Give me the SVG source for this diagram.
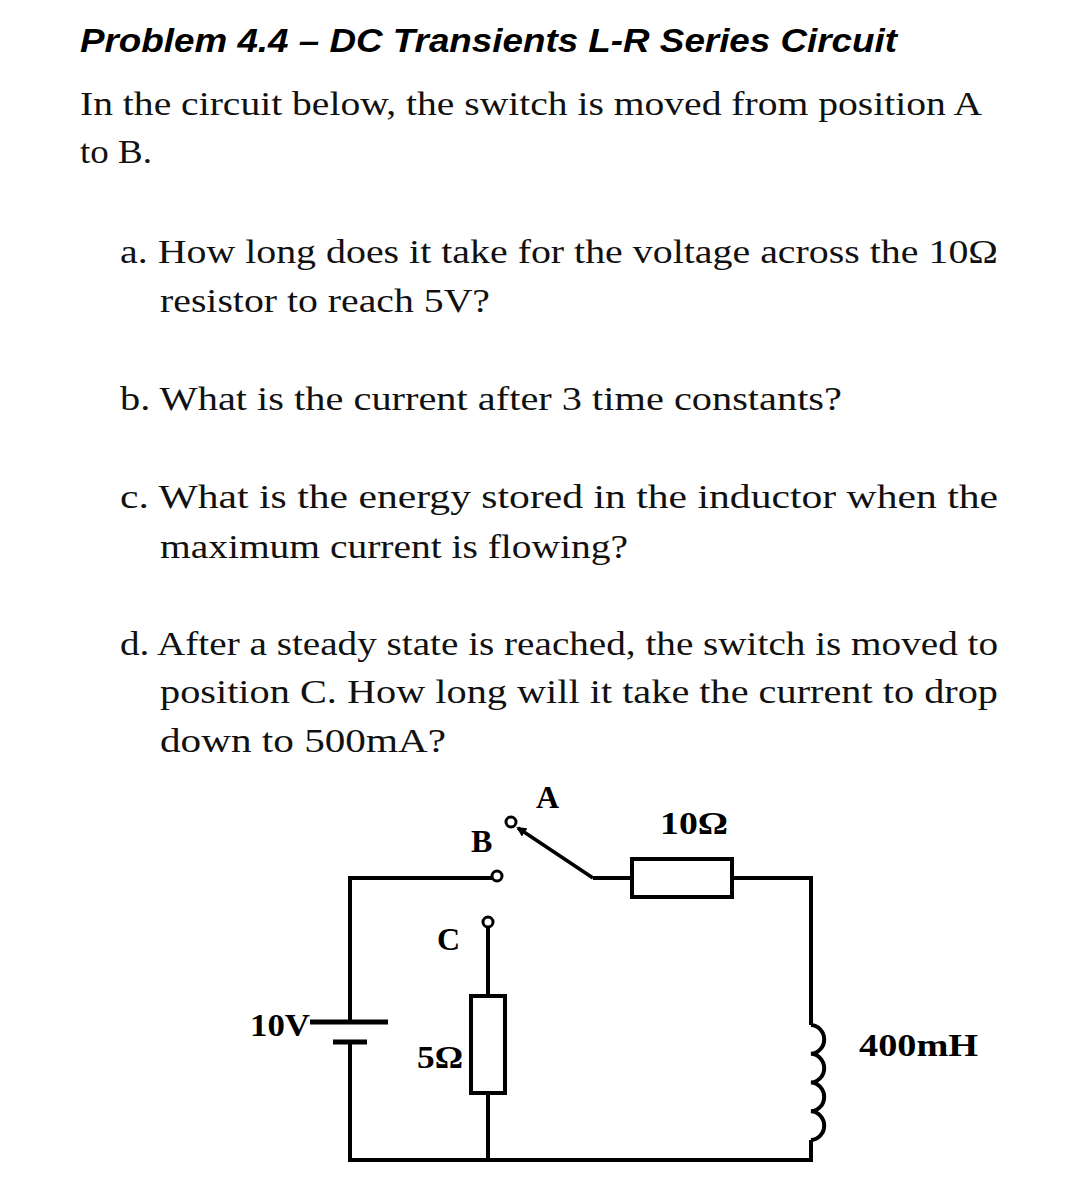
<svg xmlns="http://www.w3.org/2000/svg" width="1080" height="1186" viewBox="0 0 1080 1186">
<style>
.t{font-family:"Liberation Sans",Arial,sans-serif;font-weight:bold;font-style:italic;font-size:34px}
.b{font-family:"Liberation Serif","DejaVu Serif",serif;font-size:34px;fill:#111}
.l{font-family:"Liberation Serif","DejaVu Serif",serif;font-weight:bold;font-size:32px}
.w{stroke:#000;stroke-width:4;fill:none}
.c{stroke:#000;stroke-width:3;fill:#fff}
</style>
<defs><marker id="ar" markerWidth="10" markerHeight="10" refX="8" refY="5" orient="auto" markerUnits="userSpaceOnUse"><path d="M0,0 L10,5 L0,10 z" fill="#000"/></marker></defs>
<g id="text">
<text class="t" x="80" y="52" textLength="817" lengthAdjust="spacingAndGlyphs">Problem 4.4 – DC Transients L-R Series Circuit</text>
<text class="b" x="80" y="115" textLength="902" lengthAdjust="spacingAndGlyphs">In the circuit below, the switch is moved from position A</text>
<text class="b" x="80" y="163" textLength="72" lengthAdjust="spacingAndGlyphs">to B.</text>
<text class="b" x="120" y="263" textLength="878" lengthAdjust="spacingAndGlyphs">a. How long does it take for the voltage across the 10Ω</text>
<text class="b" x="160" y="312" textLength="330" lengthAdjust="spacingAndGlyphs">resistor to reach 5V?</text>
<text class="b" x="120" y="410" textLength="722" lengthAdjust="spacingAndGlyphs">b. What is the current after 3 time constants?</text>
<text class="b" x="120" y="508" textLength="878" lengthAdjust="spacingAndGlyphs">c. What is the energy stored in the inductor when the</text>
<text class="b" x="160" y="558" textLength="468" lengthAdjust="spacingAndGlyphs">maximum current is flowing?</text>
<text class="b" x="120" y="655" textLength="878" lengthAdjust="spacingAndGlyphs">d. After a steady state is reached, the switch is moved to</text>
<text class="b" x="160" y="703" textLength="838" lengthAdjust="spacingAndGlyphs">position C. How long will it take the current to drop</text>
<text class="b" x="160" y="752" textLength="286" lengthAdjust="spacingAndGlyphs">down to 500mA?</text>
</g>
<g id="connectors">
<path class="w" d="M350,1160 V1042 M350,1022 V878 H492 M593,878 H632 M732,878 H811 V1025 M811,1140 V1160 M488,928 V996 M488,1093 V1160 M348,1160 H813"/>
<line x1="593" y1="878" x2="518" y2="828" stroke="#000" stroke-width="3.5" marker-end="url(#ar)"/>
</g>
<g id="battery"><line x1="310" y1="1022" x2="388" y2="1022" stroke="#000" stroke-width="5"/><line x1="333" y1="1042" x2="367" y2="1042" stroke="#000" stroke-width="5"/><text class="l" x="250" y="1036" textLength="60" lengthAdjust="spacingAndGlyphs">10V</text></g>
<g id="termA"><circle class="c" cx="511" cy="822" r="5"/><text class="l" x="536" y="808">A</text></g>
<g id="termB"><circle class="c" cx="497" cy="876" r="5"/><text class="l" x="471" y="852">B</text></g>
<g id="termC"><circle class="c" cx="488" cy="922" r="5"/><text class="l" x="437" y="950">C</text></g>
<g id="r10"><rect class="w" x="632" y="859" width="100" height="38" fill="#fff"/><text class="l" x="660" y="834" textLength="68" lengthAdjust="spacingAndGlyphs">10Ω</text></g>
<g id="r5"><rect class="w" x="471" y="996" width="34" height="97"/><text class="l" x="417" y="1068" textLength="46" lengthAdjust="spacingAndGlyphs">5Ω</text></g>
<g id="ind"><path class="w" d="M811,1025 a14,14.4 0 0 1 0,28.75 a14,14.4 0 0 1 0,28.75 a14,14.4 0 0 1 0,28.75 a14,14.4 0 0 1 0,28.75"/><text class="l" x="859" y="1056" textLength="119" lengthAdjust="spacingAndGlyphs">400mH</text></g>
</svg>
